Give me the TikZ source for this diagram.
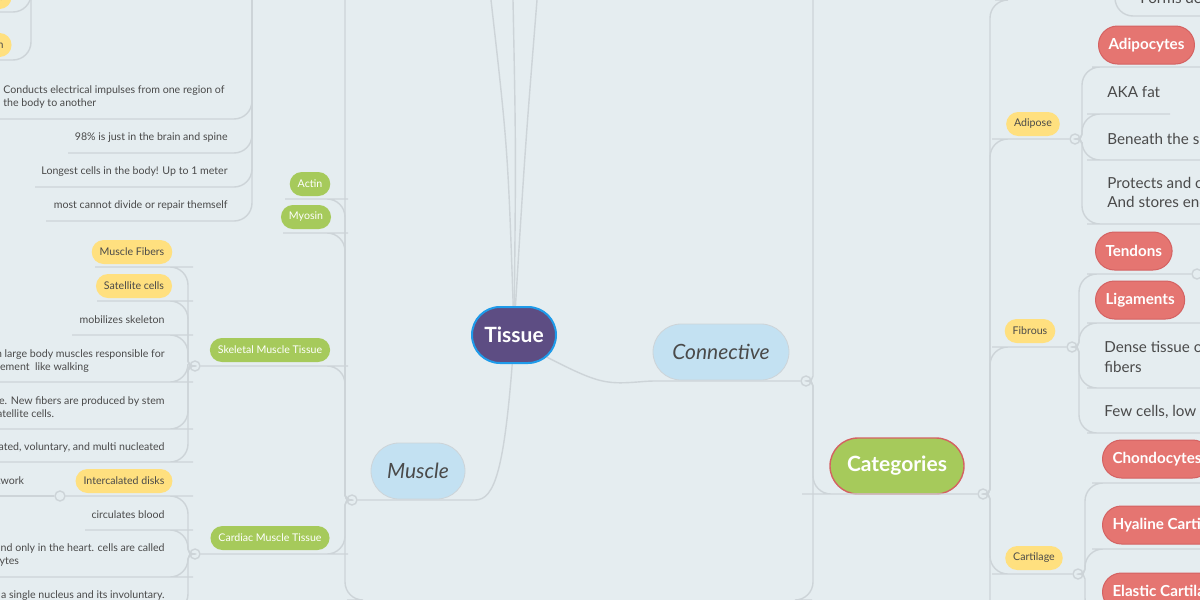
\documentclass[tikz,border=0pt]{standalone}
\usepackage{fontspec}
\setmainfont{Lato}
\usetikzlibrary{calc}
\definecolor{bg}{HTML}{E5EDF0}
\definecolor{ln}{HTML}{CDD4D8}
\definecolor{purp}{HTML}{5D4D83}
\definecolor{blueb}{HTML}{1E9BEA}
\definecolor{conn}{HTML}{C3E1F2}
\definecolor{grn}{HTML}{A6CA5B}
\definecolor{yel}{HTML}{FFE07F}
\definecolor{rd}{HTML}{E57571}
\definecolor{rdb}{HTML}{D46262}
\definecolor{tx}{HTML}{4A4A4A}
\tikzset{
  br/.style={draw=ln,line width=0.7pt,rounded corners=2.5pt},
  rc/.style={rounded corners=9pt},
  jn/.style={circle,draw=ln,fill=bg,line width=0.7pt,minimum size=5pt,inner sep=0pt},
  stxt/.style={font=\fontsize{5.3}{6.6}\selectfont,text=tx,inner sep=0pt},
  mtxt/.style={font=\fontsize{7.6}{9.6}\selectfont,text=tx,inner sep=0pt,align=left},
  ps/.style={rectangle,rounded corners=6pt,minimum height=12pt,inner xsep=4pt,inner ysep=0pt,font=\fontsize{5.3}{6}\selectfont},
  pm/.style={rectangle,rounded corners=9.5pt,minimum height=19pt,inner xsep=5pt,inner ysep=0pt,font=\bfseries\fontsize{7.6}{9}\selectfont,fill=rd,draw=rdb,line width=0.5pt,text=white},
  pl/.style={rectangle,rounded corners=14pt,minimum height=28pt,inner ysep=0pt,font=\fontsize{10.5}{12}\selectfont},
  yp/.style={ps,fill=yel,text=tx},
  gp/.style={ps,fill=grn,text=white},
}
\begin{document}
\begin{tikzpicture}[x=0.5pt,y=-0.5pt]
\fill[bg] (0,0) rectangle (1200,600);
\useasboundingbox (0,0) rectangle (1200,600);
\clip (0,0) rectangle (1200,600);

% ---------- coordinates ----------
\coordinate (top491) at (491,0);
\coordinate (top513) at (513,0);
\coordinate (top537) at (537,0);
\coordinate (ntop) at (252,0);
\coordinate (mtop) at (345,0);
\coordinate (mbot) at (347,600);
\coordinate (ctop) at (813,0);
\coordinate (cbot) at (812,600);
\coordinate (ktop) at (995,0);
\coordinate (kbot) at (990,600);
\coordinate (ltop) at (31,0);

% ---------- central ----------
\node[pl,fill=conn,draw=ln,minimum width=68pt,font=\itshape\fontsize{10.5}{12}\selectfont,text=tx] (conn) at (721,352) {Connective};
\node[pl,fill=conn,draw=ln,minimum width=47pt,font=\itshape\fontsize{10.5}{12}\selectfont,text=tx] (mus) at (418,471) {Muscle};
\node[pl,fill=grn,draw=rdb,line width=0.7pt,minimum width=67pt,font=\bfseries\fontsize{10.5}{12}\selectfont,text=white] (cat) at (897,466) {Categories};

\node[jn] (cj) at (806,381) {};
\node[jn] (mj) at (352,500) {};
\node[jn] (kj) at (983,494) {};

\draw[br] (cj) -- ++(7,0) [rc] |- (ctop);
\draw[br] (cj) -- ++(7,0) [rc] |- (cbot);
\draw[br] (cj) -- ++(7,0) [rc] |- (820,494) -- (kj);
\draw[br] (mj) -- ++(-7,0) [rc] |- (mtop);
\draw[br] (mj) -- ++(-7,0) [rc] |- (mbot);

% ---------- muscle side ----------
\node[gp,minimum width=19pt] (actin) at (310,184) {Actin};
\node[gp,minimum width=21pt] (myo) at (306,217) {Myosin};
\node[gp,minimum width=57pt] (skel) at (270,350) {Skeletal Muscle Tissue};
\node[gp,minimum width=57pt] (card) at (270,538) {Cardiac Muscle Tissue};
\node[jn] (sj) at (195,366) {};
\node[jn] (cdj) at (195,554) {};
\draw[br] (mj) -- ++(-7,0) [rc] |- (330,199) -- (285,199);
\draw[br] (mj) -- ++(-7,0) [rc] |- (330,233) -- (283,233);
\draw[br] (mj) -- ++(-7,0) [rc] |- (330,366) -- (sj);
\draw[br] (mj) -- ++(-7,0) [rc] |- (330,554) -- (cdj);

\node[yp,minimum width=37pt] (mf) at (132,252) {Muscle Fibers};
\node[yp,minimum width=35pt] (sc) at (134,286) {Satellite cells};
\node[stxt,anchor=east] (t1) at (165,320) {mobilizes skeleton};
\node[stxt,anchor=east,align=left] (t2) at (165,361) {Located in large body muscles responsible for\\ body movement\ \ like walking};
\node[stxt,anchor=east,align=left] (t3) at (165,407) {Cannot divide. New fibers are produced by stem\\ cells called satellite cells.};
\node[stxt,anchor=east] (t4) at (165,447) {Striated, voluntary, and multi nucleated};
\foreach \y/\x in {267/95,301/97,335/72,382/0,429/0,462/0}{
  \draw[br] (sj) -- ++(-7,0) [rc] |- (175,\y) -- (\x,\y);
}
\node[yp,minimum width=47pt] (id) at (124,481) {Intercalated disks};
\node[jn] (idj) at (60,496) {};
\node[stxt,anchor=west] (net) at (-25,481) {A network};
\node[stxt,anchor=east] (t5) at (165,515) {circulates blood};
\node[stxt,anchor=east,align=left] (t6) at (165,555) {It is found only in the heart. cells are called\\ cardiocytes};
\node[stxt,anchor=east] (t7) at (165,596) {Has a single nucleus and its involuntary.};
\draw[br] (cdj) -- ++(-7,0) [rc] |- (175,496) -- (idj);
\draw[br] (idj) -- (0,496);
\draw[br] (cdj) -- ++(-7,0) [rc] |- (175,530) -- (85,530);
\draw[br] (cdj) -- ++(-7,0) [rc] |- (175,577) -- (0,577);
\draw[br] (cdj) -- ++(-7,0) [rc] |- (175,612) -- (0,612);

% ---------- nervous (top left) ----------
\node[stxt,anchor=west,align=left] (n1) at (3,97) {Conducts electrical impulses from one region of\\ the body to another};
\node[stxt,anchor=east] (n2) at (228,138) {98\% is just in the brain and spine};
\node[stxt,anchor=east] (n3) at (228,172) {Longest cells in the body! Up to 1 meter};
\node[stxt,anchor=east] (n4) at (228,206) {most cannot divide or repair themself};
\draw[br,rc] (ntop) |- (0,119);
\draw[br,rc] (ntop) |- (68,153);
\draw[br,rc] (ntop) |- (35,187);
\draw[br,rc] (ntop) |- (46,221);
\node[yp,anchor=east] (np1) at (12,-3) {Neurons};
\node[yp,anchor=east] (np2) at (12,45) {Axon};
\draw[br,rc] (ltop) |- (0,60);
\draw[br,rc] (ltop) |- (0,12);

% ---------- tissue ----------
\draw[br] (514,330) .. controls (516,150) .. (top513);
\draw[br] (514,330) .. controls (508,150) .. (top491);
\draw[br] (514,330) .. controls (525,150) .. (top537);
\draw[br] (514,340) .. controls (505,470) and (495,500) .. (470,500) -- (mj);
\draw[br] (514,340) .. controls (600,385) .. (650,381) -- (cj);
\node[pl,fill=purp,draw=blueb,line width=1pt,minimum width=42pt,font=\bfseries\fontsize{10.5}{12}\selectfont,text=white] (tis) at (514,335) {Tissue};

% ---------- categories side ----------
\draw[br] (kj) -- ++(7,0) [rc] |- (ktop);
\draw[br] (kj) -- ++(7,0) [rc] |- (kbot);
\node[yp,minimum width=26pt] (adi) at (1033,124) {Adipose};
\node[yp,minimum width=24pt] (fib) at (1030,331) {Fibrous};
\node[yp,minimum width=27pt] (car) at (1034,558) {Cartilage};
\node[jn] (aj) at (1075,139) {};
\node[jn] (fj) at (1072,347) {};
\node[jn] (crj) at (1078,574) {};
\draw[br] (kj) -- ++(7,0) [rc] |- (1010,139) -- (aj);
\draw[br] (kj) -- ++(7,0) [rc] |- (1010,347) -- (fj);
\draw[br] (kj) -- ++(7,0) [rc] |- (1010,574) -- (crj);

\draw[br,rc] (1115,0) |- (1200,16);
\node[mtxt,anchor=west] (forms) at (1140,-2) {Forms decorative};
\node[pm,anchor=west] (adc) at (1098,45) {Adipocytes};
\node[mtxt,anchor=west] (aka) at (1107,92) {AKA fat};
\node[mtxt,anchor=west] (ben) at (1107,139) {Beneath the skin};
\node[mtxt,anchor=west] (pro) at (1107,194) {Protects and cushions\\And stores energy};
\draw[br] (aj) -- ++(7,0) [rc] |- (1110,67) -- (1200,67);
\draw[br] (aj) -- ++(7,0) [rc] |- (1105,114) -- (1170,114);
\draw[br] (aj) -- ++(7,0) [rc] |- (1105,160) -- (1200,160);
\draw[br] (aj) -- ++(7,0) [rc] |- (1105,224) -- (1200,224);

\node[pm,anchor=west] (ten) at (1095,251) {Tendons};
\node[pm,anchor=west] (lig) at (1095,300) {Ligaments};
\node[mtxt,anchor=west] (den) at (1104,357) {Dense tissue of collagen\\fibers};
\node[mtxt,anchor=west] (few) at (1104,412) {Few cells, low blood supply};
\node[jn] (tj) at (1197,274) {};
\draw[br] (fj) -- ++(7,0) [rc] |- (1105,274) -- (tj);
\draw[br] (fj) -- ++(7,0) [rc] |- (1105,323) -- (1200,323);
\draw[br] (fj) -- ++(7,0) [rc] |- (1105,388) -- (1200,388);
\draw[br] (fj) -- ++(7,0) [rc] |- (1105,433) -- (1200,433);

\node[pm,anchor=west] (cho) at (1102,459) {Chondocytes};
\node[pm,anchor=west] (hya) at (1102,525) {Hyaline Cartilage};
\node[pm,anchor=west] (ela) at (1102,592) {Elastic Cartilage};
\draw[br] (crj) -- ++(7,0) [rc] |- (1110,483) -- (1200,483);
\draw[br] (crj) -- ++(7,0) [rc] |- (1110,549) -- (1200,549);
\draw[br] (crj) -- ++(7,0) [rc] |- (1110,616) -- (1200,616);
\end{tikzpicture}
\end{document}
